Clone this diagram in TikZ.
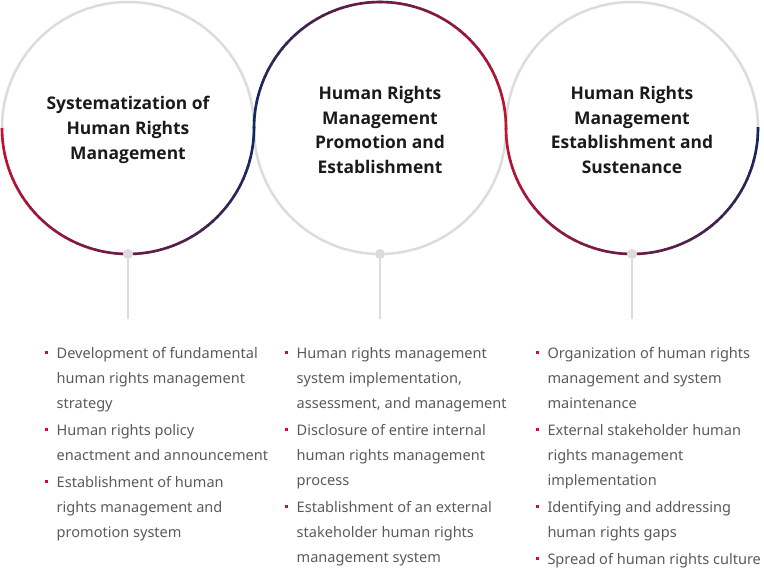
\documentclass[tikz,border=0pt]{standalone}
\usepackage{fontspec}
\setmainfont{Noto Sans}
\newfontfamily\titlefont{Open Sans}
\definecolor{redc}{HTML}{C8102E}
\definecolor{navyc}{HTML}{0B2A5E}
\definecolor{ringgray}{HTML}{DCDCDC}
\definecolor{bodytext}{HTML}{5A5A5A}
\definecolor{titletext}{HTML}{1A1A1A}
\begin{document}
\begin{tikzpicture}[x=1bp,y=-1bp,
  ring/.style={circle, draw=ringgray, line width=2.5bp, minimum size=252bp, inner sep=0pt, outer sep=0pt},
  titletxt/.style={font=\titlefont\fontsize{17.5}{25}\selectfont\bfseries, text=titletext, align=center, inner sep=0pt},
  itemtxt/.style={font=\fontsize{14.6}{25}\selectfont, text=bodytext, anchor=base west, inner sep=0pt},
  bulletsq/.style={fill=redc, minimum size=3bp, inner sep=0pt},
  dotc/.style={circle, fill=ringgray, minimum size=10bp, inner sep=0pt},
  stem/.style={draw=ringgray, line width=2bp},
  grad/.style={line width=2.6bp}]
\useasboundingbox (0,0) rectangle (764,570);
% rings
\node[ring] (c1) at (128,128) {};
\node[ring] (c2) at (380,128) {};
\node[ring] (c3) at (632,128) {};
% gradient halves
\foreach \i in {0,...,59}{
  \pgfmathtruncatemacro\p{100*(\i+0.5)/60}
  \pgfmathsetmacro\a{180-3*\i}
  \pgfmathsetmacro\b{180-3*\i-3.4}
  \draw[grad, draw=navyc!\p!redc] ({128+126*cos(\a)},{128+126*sin(\a)}) arc[start angle=\a, end angle=\b, radius=126];
  \draw[grad, draw=navyc!\p!redc] ({632+126*cos(\a)},{128+126*sin(\a)}) arc[start angle=\a, end angle=\b, radius=126];
  \pgfmathtruncatemacro\q{100-\p}
  \pgfmathsetmacro\c{180+3*\i}
  \pgfmathsetmacro\d{180+3*\i+3.4}
  \draw[grad, draw=navyc!\q!redc] ({380+126*cos(\c)},{128+126*sin(\c)}) arc[start angle=\c, end angle=\d, radius=126];
}
% titles
\node[titletxt] (t1) at (128,130) {Systematization of\\Human Rights\\Management};
\node[titletxt] (t2) at (380,130) {Human Rights\\Management\\Promotion and\\Establishment};
\node[titletxt] (t3) at (632,130) {Human Rights\\Management\\Establishment and\\Sustenance};
% dots and stems
\node[dotc] (d1) at (128,254) {};
\node[dotc] (d2) at (380,254) {};
\node[dotc] (d3) at (632,254) {};
\coordinate (s1) at (128,319);
\coordinate (s2) at (380,319);
\coordinate (s3) at (632,319);
\draw[stem] (d1) -- (s1);
\draw[stem] (d2) -- (s2);
\draw[stem] (d3) -- (s3);
% column 1
\foreach \y [count=\k] in {358,435,487}{\node[bulletsq] (ba\k) at (46.7,\y-5.5) {};}
\foreach \y/\t [count=\k] in {358/{Development of fundamental},383/{human rights management},408/{strategy},435/{Human rights policy},460/{enactment and announcement},487/{Establishment of human},512/{rights management and},537/{promotion system}}{
  \node[itemtxt] (la\k) at (56.5,\y) {\t};}
% column 2
\foreach \y [count=\k] in {358,435,512}{\node[bulletsq] (bb\k) at (286.7,\y-5.5) {};}
\foreach \y/\t [count=\k] in {358/{Human rights management},383/{system implementation,},408/{assessment, and management},435/{Disclosure of entire internal},460/{human rights management},485/{process},512/{Establishment of an external},537/{stakeholder human rights},562/{management system}}{
  \node[itemtxt] (lb\k) at (296.5,\y) {\t};}
% column 3
\foreach \y [count=\k] in {358,435,512,564}{\node[bulletsq] (bc\k) at (537.5,\y-5.5) {};}
\foreach \y/\t [count=\k] in {358/{Organization of human rights},383/{management and system},408/{maintenance},435/{External stakeholder human},460/{rights management},485/{implementation},512/{Identifying and addressing},537/{human rights gaps},564/{Spread of human rights culture}}{
  \node[itemtxt] (lc\k) at (547.3,\y) {\t};}
\end{tikzpicture}
\end{document}
